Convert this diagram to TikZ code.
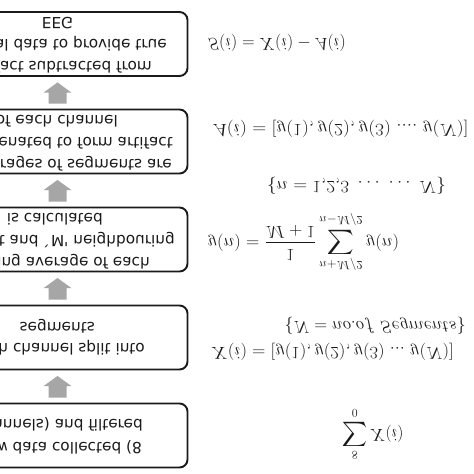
\documentclass[tikz,border=0pt]{standalone}
\usepackage{fontspec}
\usepackage{amsmath}
\newfontfamily\boxfont{DejaVu Sans}
\usetikzlibrary{calc}
\definecolor{boxline}{HTML}{1A1A1A}
\definecolor{arrowgray}{HTML}{A6A6A6}
\definecolor{inkcol}{HTML}{1A1A1A}
\newcommand{\flowarrow}[2]{%
  \fill[arrowgray] ($(#1.north)+(-9,-5)$) -- ($(#2.south)+(-9,15.7)$) -- ($(#2.south)+(-14,15.7)$)
    -- ($(#2.south)+(0,5.5)$) -- ($(#2.south)+(14,15.7)$) -- ($(#2.south)+(9,15.7)$)
    -- ($(#1.north)+(9,-5)$) -- cycle;}
\begin{document}
\begin{tikzpicture}[x=1pt,y=-1pt,
  flowbox/.style={draw=boxline, line width=1.9pt, rounded corners=8pt,
    minimum width=260pt, minimum height=64pt, inner sep=0pt},
  boxtxt/.style={font=\boxfont\fontsize{15.3}{18}\selectfont, text=inkcol,
    inner sep=0pt, yscale=-1, text height=11.5pt, text depth=3.8pt},
  eq/.style={font=\fontsize{17}{20}\selectfont, text=inkcol, inner sep=0pt, yscale=-1}]
\useasboundingbox (0,0) rectangle (474,474);
\clip (0,0) rectangle (474,474);
\fill[white] (0,0) rectangle (474,474);
% boxes
\node[flowbox] (b1) at (57.5,44) {};
\node[flowbox] (b2) at (57.5,141.5) {};
\node[flowbox] (b3) at (57.5,239.5) {};
\node[flowbox] (b4) at (57.5,337.5) {};
\node[flowbox] (b5) at (57.5,435.5) {};
% box texts (vertically mirrored)
\node[boxtxt] (t11) at (57.5,21.5) {EEG};
\node[boxtxt, anchor=east] (t12) at (167,43.5) {original data to provide true};
\node[boxtxt, anchor=east] (t13) at (152,65.5) {Artifact subtracted from};
\node[boxtxt, anchor=east] (t21) at (118,119.5) {of each channel};
\node[boxtxt, anchor=east] (t22) at (173,141.5) {concatenated to form artifact};
\node[boxtxt, anchor=east] (t23) at (172,163.5) {The averages of segments are};
\node[boxtxt, anchor=east] (t31) at (103,217.5) {is calculated};
\node[boxtxt, anchor=east] (t32) at (175,239.5) {segment and `M' neighbouring};
\node[boxtxt, anchor=east] (t33) at (150,261.5) {Moving average of each};
\node[boxtxt, anchor=east] (t41) at (95,326.5) {segments};
\node[boxtxt, anchor=east] (t42) at (145,347.5) {Each channel split into};
\node[boxtxt, anchor=east] (t51) at (143,423) {channels) and filtered};
\node[boxtxt, anchor=east] (t52) at (142,446) {Raw data collected (8};
% arrows
\flowarrow{b2}{b1}
\flowarrow{b3}{b2}
\flowarrow{b4}{b3}
\flowarrow{b5}{b4}
% equations
\node[eq, xscale=1.01] (eS) at (276.7,42.5) {$S(i) = X(i) - A(i)$};
\node[eq, xscale=1.12] (eA) at (340.5,129) {$A(i) = [y(1), y(2), y(3) \;....\; y(N)]$};
\node[eq, xscale=1.11] (en) at (356.5,185.5) {$\{n = 1{,}2{,}3 \;\ldots\ \ldots\; N\}$};
\node[eq, xscale=1.066] (eY) at (303.4,242) {$\displaystyle y(n) = \frac{1}{M+1}\sum_{n-M/2}^{n+M/2} y(n)$};
\node[eq, xscale=1.03] (eN) at (375.3,326) {$\{N = no.of\ Segments\}$};
\node[eq, xscale=1.07] (eX) at (332.5,352) {$X(i) = [y(1), y(2), y(3) \;...\; y(N)]$};
\node[eq] (eSum) at (372.9,434.5) {$\displaystyle \sum_{0}^{8} X(i)$};
\end{tikzpicture}
\end{document}
